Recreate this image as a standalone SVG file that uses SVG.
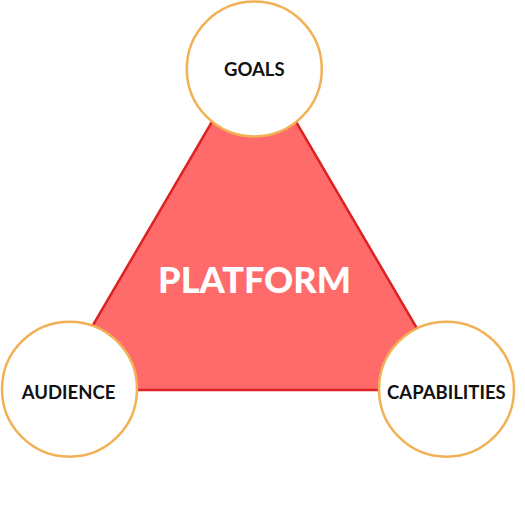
<svg xmlns="http://www.w3.org/2000/svg" width="525" height="508" viewBox="0 0 525 508">
<style>
.node circle{fill:#fff;stroke:#F2B155;stroke-width:2.5}
.lbl{font-family:Lato,"Open Sans",sans-serif;font-weight:700;font-size:18.5px;fill:#111;text-anchor:middle}
.title{font-family:Lato,"Open Sans",sans-serif;font-weight:900;font-size:36px;fill:#fff;text-anchor:middle}
</style>
<rect width="525" height="508" fill="#fff"/>
<g id="platform">
<polygon points="254,50 55,390 453,390" fill="#FF6B6B" stroke="#DD2222" stroke-width="2.5" stroke-linejoin="round"/>
<text class="title" x="254.5" y="293">PLATFORM</text>
</g>
<g id="goals" class="node">
<circle cx="254.3" cy="69" r="67.5"/>
<text class="lbl" x="254.3" y="75.8">GOALS</text>
</g>
<g id="audience" class="node">
<circle cx="69.5" cy="389.2" r="67.5"/>
<text class="lbl" x="68.5" y="398.5">AUDIENCE</text>
</g>
<g id="capabilities" class="node">
<circle cx="446.5" cy="389.2" r="67.5"/>
<text class="lbl" x="446.4" y="398.5">CAPABILITIES</text>
</g>
</svg>
